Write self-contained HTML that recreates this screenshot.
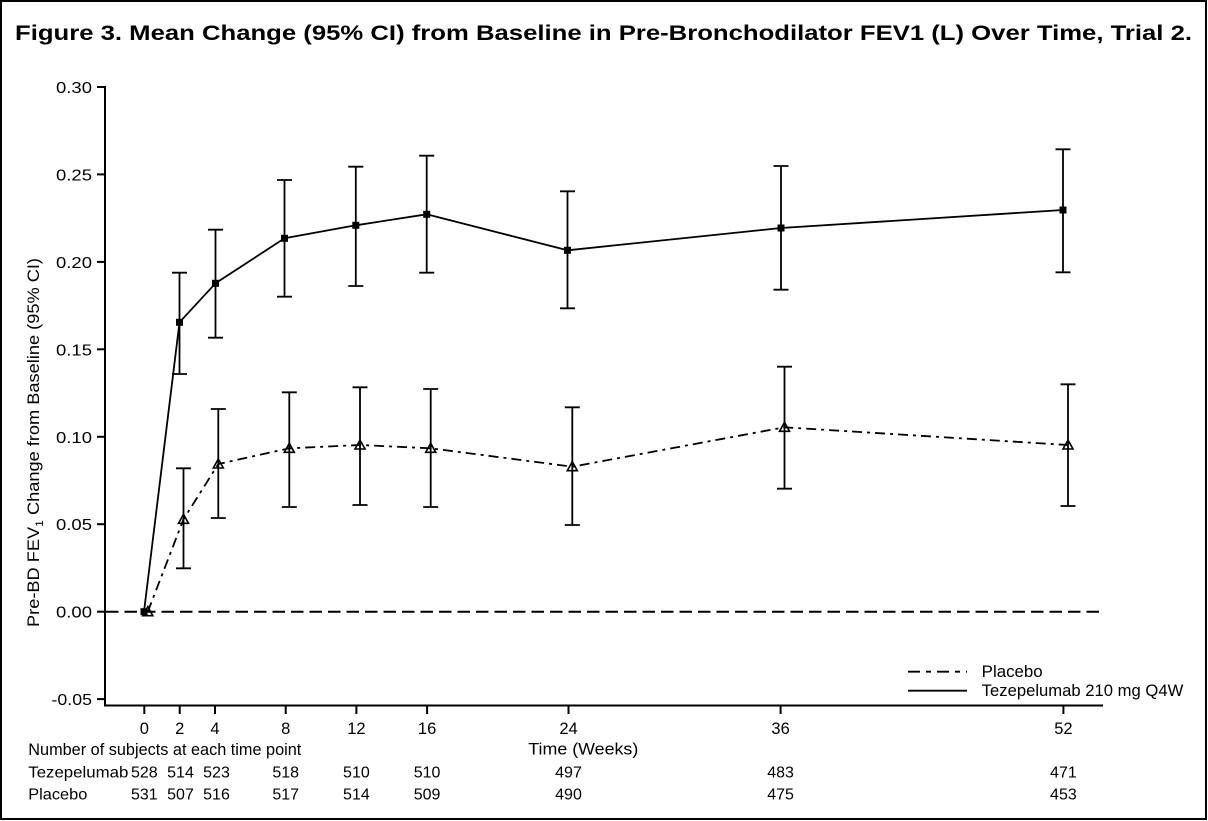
<!DOCTYPE html>
<html><head><meta charset="utf-8"><style>
html,body{margin:0;padding:0;background:#fff;}
svg{display:block;}
text{font-family:"Liberation Sans",Arial,sans-serif;fill:#000;}
</style></head><body>
<svg width="1208" height="821" viewBox="0 0 1208 821" xmlns="http://www.w3.org/2000/svg">
<rect x="1" y="1" width="1205" height="818" fill="#fff" stroke="#000" stroke-width="2"/>
<text x="15" y="40" font-size="21.5" font-weight="bold" textLength="1177" lengthAdjust="spacingAndGlyphs">Figure 3. Mean Change (95% CI) from Baseline in Pre-Bronchodilator FEV1 (L) Over Time, Trial 2.</text>

<!-- axes -->
<g stroke="#000" stroke-width="2" fill="none">
<line x1="105" y1="86" x2="105" y2="706"/>
<line x1="104" y1="705.5" x2="1103" y2="705.5"/>
<line x1="97" y1="87" x2="105" y2="87"/>
<line x1="97" y1="174.4" x2="105" y2="174.4"/>
<line x1="97" y1="261.9" x2="105" y2="261.9"/>
<line x1="97" y1="349.3" x2="105" y2="349.3"/>
<line x1="97" y1="436.8" x2="105" y2="436.8"/>
<line x1="97" y1="524.2" x2="105" y2="524.2"/>
<line x1="97" y1="611.7" x2="105" y2="611.7"/>
<line x1="97" y1="699.1" x2="105" y2="699.1"/>
<line x1="144.3" y1="705" x2="144.3" y2="714"/>
<line x1="179.7" y1="705" x2="179.7" y2="714"/>
<line x1="215" y1="705" x2="215" y2="714"/>
<line x1="285.7" y1="705" x2="285.7" y2="714"/>
<line x1="356.4" y1="705" x2="356.4" y2="714"/>
<line x1="427.1" y1="705" x2="427.1" y2="714"/>
<line x1="568.5" y1="705" x2="568.5" y2="714"/>
<line x1="780.6" y1="705" x2="780.6" y2="714"/>
<line x1="1063.4" y1="705" x2="1063.4" y2="714"/>
</g>

<!-- y tick labels -->
<g font-size="16">
<text x="56" y="93" textLength="36" lengthAdjust="spacingAndGlyphs">0.30</text>
<text x="56" y="180.4" textLength="36" lengthAdjust="spacingAndGlyphs">0.25</text>
<text x="56" y="267.9" textLength="36" lengthAdjust="spacingAndGlyphs">0.20</text>
<text x="56" y="355.3" textLength="36" lengthAdjust="spacingAndGlyphs">0.15</text>
<text x="56" y="442.8" textLength="36" lengthAdjust="spacingAndGlyphs">0.10</text>
<text x="56" y="530.2" textLength="36" lengthAdjust="spacingAndGlyphs">0.05</text>
<text x="56" y="617.7" textLength="36" lengthAdjust="spacingAndGlyphs">0.00</text>
<text x="51.5" y="705.1" textLength="40.5" lengthAdjust="spacingAndGlyphs">-0.05</text>
</g>

<!-- y axis title -->
<text transform="translate(39,627) rotate(-90)" font-size="16.5" textLength="369" lengthAdjust="spacingAndGlyphs">Pre-BD FEV<tspan font-size="11" dy="4">1</tspan><tspan dy="-4"> Change from Baseline (95% CI)</tspan></text>

<!-- x tick labels -->
<g font-size="16.5" text-anchor="middle">
<text x="144.3" y="734">0</text>
<text x="179.7" y="734">2</text>
<text x="215" y="734">4</text>
<text x="285.7" y="734">8</text>
<text x="356.4" y="734">12</text>
<text x="427.1" y="734">16</text>
<text x="568.5" y="734">24</text>
<text x="780.6" y="734">36</text>
<text x="1063.4" y="734">52</text>
</g>
<text x="528.3" y="754.5" font-size="16.5" textLength="110" lengthAdjust="spacingAndGlyphs">Time (Weeks)</text>
<text x="28.3" y="755" font-size="16.5" textLength="273" lengthAdjust="spacingAndGlyphs">Number of subjects at each time point</text>
<text x="28.3" y="777.5" font-size="16" textLength="100" lengthAdjust="spacingAndGlyphs">Tezepelumab</text>
<text x="28.3" y="799.5" font-size="16" textLength="59" lengthAdjust="spacingAndGlyphs">Placebo</text>
<g font-size="16" text-anchor="middle">
<text x="144.3" y="777.5">528</text>
<text x="180.5" y="777.5">514</text>
<text x="216.5" y="777.5">523</text>
<text x="285.7" y="777.5">518</text>
<text x="356.4" y="777.5">510</text>
<text x="427.1" y="777.5">510</text>
<text x="568.5" y="777.5">497</text>
<text x="780.6" y="777.5">483</text>
<text x="1063.4" y="777.5">471</text>
<text x="144.3" y="799.5">531</text>
<text x="180.5" y="799.5">507</text>
<text x="216.5" y="799.5">516</text>
<text x="285.7" y="799.5">517</text>
<text x="356.4" y="799.5">514</text>
<text x="427.1" y="799.5">509</text>
<text x="568.5" y="799.5">490</text>
<text x="780.6" y="799.5">475</text>
<text x="1063.4" y="799.5">453</text>
</g>

<!-- zero reference -->
<line x1="106" y1="611.7" x2="1102" y2="611.7" stroke="#000" stroke-width="2" stroke-dasharray="12.5 6"/>

<!-- tezepelumab line -->
<polyline fill="none" stroke="#000" stroke-width="1.8" stroke-linejoin="round" points="144,611.7 179.5,322.3 215.5,283.3 284.5,238.3 355.8,225.3 426.7,214.3 567.5,250.3 781,228 1063,210"/>
<!-- placebo line -->
<polyline fill="none" stroke="#000" stroke-width="1.8" stroke-dasharray="10 5 3 5" points="147.8,611.7 183.5,519.3 218.3,464 289.3,448.3 360,445 430.7,448.3 572.3,466.7 784.5,427.3 1068,445"/>

<!-- error bars -->
<g stroke="#000" stroke-width="1.8" fill="none">
<path d="M179.5 272.7V374M172 272.7h15M172 374h15"/>
<path d="M215.5 229.7V337.7M208 229.7h15M208 337.7h15"/>
<path d="M284.5 180V296.7M277 180h15M277 296.7h15"/>
<path d="M355.8 166.7V286M348.3 166.7h15M348.3 286h15"/>
<path d="M426.7 155.7V272.7M419.2 155.7h15M419.2 272.7h15"/>
<path d="M567.5 191.3V308.3M560 191.3h15M560 308.3h15"/>
<path d="M781 166V289.7M773.5 166h15M773.5 289.7h15"/>
<path d="M1063 149.3V272.3M1055.5 149.3h15M1055.5 272.3h15"/>
<path d="M183.5 468.3V568.3M176 468.3h15M176 568.3h15"/>
<path d="M218.3 409V518M210.8 409h15M210.8 518h15"/>
<path d="M289.3 392.3V507M281.8 392.3h15M281.8 507h15"/>
<path d="M360 387.3V505M352.5 387.3h15M352.5 505h15"/>
<path d="M430.7 389V507M423.2 389h15M423.2 507h15"/>
<path d="M572.3 407.3V525M564.8 407.3h15M564.8 525h15"/>
<path d="M784.5 366.7V488.7M777 366.7h15M777 488.7h15"/>
<path d="M1068 384.3V506M1060.5 384.3h15M1060.5 506h15"/>
</g>

<!-- square markers -->
<g fill="#000">
<rect x="140.5" y="608.2" width="7" height="7"/>
<rect x="176" y="318.8" width="7" height="7"/>
<rect x="212" y="279.8" width="7" height="7"/>
<rect x="281" y="234.8" width="7" height="7"/>
<rect x="352.3" y="221.8" width="7" height="7"/>
<rect x="423.2" y="210.8" width="7" height="7"/>
<rect x="564" y="246.8" width="7" height="7"/>
<rect x="777.5" y="224.5" width="7" height="7"/>
<rect x="1059.5" y="206.5" width="7" height="7"/>
</g>

<!-- triangle markers -->
<g fill="none" stroke="#000" stroke-width="1.6" stroke-linejoin="miter">
<path d="M147.8 606.7L142.8 615.7H152.8Z"/>
<path d="M183.5 514.3L178.5 523.3H188.5Z"/>
<path d="M218.3 459L213.3 468H223.3Z"/>
<path d="M289.3 443.3L284.3 452.3H294.3Z"/>
<path d="M360 440L355 449H365Z"/>
<path d="M430.7 443.3L425.7 452.3H435.7Z"/>
<path d="M572.3 461.7L567.3 470.7H577.3Z"/>
<path d="M784.5 422.3L779.5 431.3H789.5Z"/>
<path d="M1068 440L1063 449H1073Z"/>
</g>

<!-- legend -->
<line x1="908" y1="671.7" x2="967" y2="671.7" stroke="#000" stroke-width="1.8" stroke-dasharray="12 6 5 6 12 6 5 6"/>
<line x1="908" y1="690.7" x2="967" y2="690.7" stroke="#000" stroke-width="1.8"/>
<text x="981.7" y="677" font-size="16.5" textLength="61" lengthAdjust="spacingAndGlyphs">Placebo</text>
<text x="981.7" y="696" font-size="16.5" textLength="201.6" lengthAdjust="spacingAndGlyphs">Tezepelumab 210 mg Q4W</text>
</svg>
</body></html>
